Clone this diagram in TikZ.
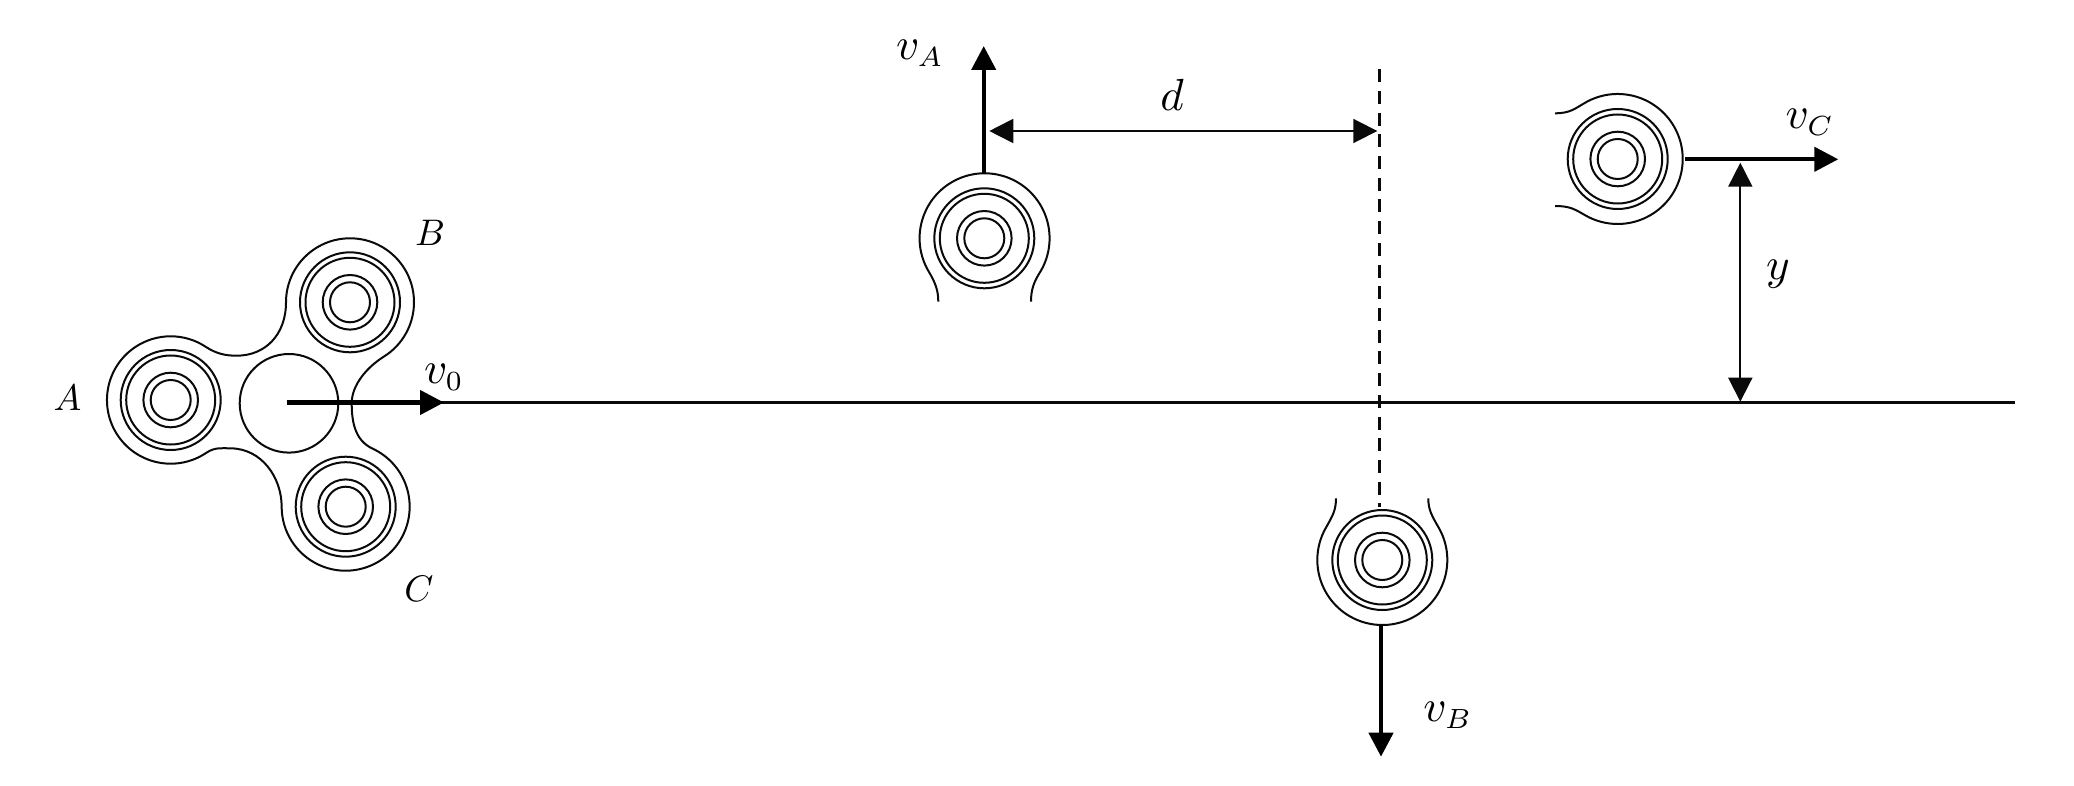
\documentclass[tikz,border=0pt]{standalone}
\usetikzlibrary{arrows.meta}
\definecolor{ink}{HTML}{0A0A0A}
\newcommand{\subs}[1]{\scalebox{.88}{$\scriptstyle #1$}}
\tikzset{
  x=1pt,y=-1pt,
  outl/.style={draw=ink,line width=2pt},
  ringl/.style={draw=ink,line width=2pt},
  baseln/.style={draw=ink,line width=2.5pt},
  thickarrow/.style={draw=black,line width=4.4pt,-{Triangle[length=24pt,width=24pt]}},
  dimarrow/.style={draw=ink,line width=1.8pt,{Triangle[length=24pt,width=24pt]}-{Triangle[length=24pt,width=24pt]}},
  dashln/.style={draw=ink,line width=3pt,dash pattern=on 13pt off 8.7pt},
  symlabel/.style={inner sep=0pt,scale=4.5,text=black},
  caplabel/.style={inner sep=0pt,scale=3.7,text=black}
}
\newcommand{\ringset}[1]{%
  \draw[ringl] (#1) circle[radius=50];
  \draw[ringl] (#1) circle[radius=44.5];
  \draw[ringl] (#1) circle[radius=27.3];
  \draw[ringl] (#1) circle[radius=20];
}
\begin{document}
\begin{tikzpicture}
\useasboundingbox (0,0) rectangle (2074,786);
\fill[white] (0,0) rectangle (2074,786);
% spinner
\coordinate (cA) at (170.7,400);
\coordinate (cB) at (350,302.3);
\coordinate (cC) at (345.7,506.7);
\coordinate (hub) at (289,403.3);
\draw[outl] (206.3,347.2) .. controls (217,354) and (226,355.7) .. (236.7,355.7)
  .. controls (265,355.7) and (286,335) .. (286,302.3)
  arc[start angle=180,end angle=418,radius=64]
  .. controls (366.9,367.2) and (351.7,385) .. (351.7,403.3)
  .. controls (351.7,425) and (356.4,441.1) .. (372.7,448.7)
  arc[start angle=295,end angle=540,radius=64]
  .. controls (281.7,478) and (262,448.3) .. (230,448.3)
  .. controls (222,448.3) and (215,447) .. (206.3,452.8)
  arc[start angle=56,end angle=304,radius=63.7] -- cycle;
\ringset{cA}\ringset{cB}\ringset{cC}
\draw[outl] (hub) circle[radius=49.3];
% detached lobes
\coordinate (dA) at (984.3,238.3);
\coordinate (dB) at (1382.3,560);
\coordinate (dC) at (1617.7,159);
\draw[outl] (938.3,301.7) .. controls (938.3,290) and (935,282) .. (928.3,270.8)
  arc[start angle=150,end angle=390,radius=65]
  .. controls (1033.6,282) and (1031,290) .. (1031,301.7);
\ringset{dA}
\draw[outl] (1428.3,498.3) .. controls (1428.3,510) and (1432,516) .. (1438.6,527.5)
  arc[start angle=-30,end angle=210,radius=65]
  .. controls (1332.6,516) and (1336,510) .. (1336,498.3);
\ringset{dB}
\draw[outl] (1555,113.3) .. controls (1570,113.3) and (1574.8,108.7) .. (1585.2,102.7)
  arc[start angle=240,end angle=480,radius=65]
  .. controls (1574.8,209.3) and (1570,206) .. (1555,206);
\ringset{dC}
% lines
\coordinate (b0) at (286.7,402.5);
\coordinate (b1) at (2015,402.5);
\draw[baseln] (b0) -- (b1);
\coordinate (v0tip) at (444,402.5);
\draw[thickarrow] (b0) -- (v0tip);
\coordinate (dash0) at (1379,69.3);
\coordinate (dash1) at (1379,506.7);
\draw[dashln] (dash0) -- (dash1);
\coordinate (vAs) at (983.7,174);
\coordinate (vAt) at (983.7,46);
\draw[thickarrow] (vAs) -- (vAt);
\coordinate (vBs) at (1381,625);
\coordinate (vBt) at (1381,756.7);
\draw[thickarrow] (vBs) -- (vBt);
\coordinate (vCs) at (1685,159.3);
\coordinate (vCt) at (1838.3,159.3);
\draw[thickarrow] (vCs) -- (vCt);
\coordinate (dL) at (989.3,131);
\coordinate (dR) at (1377.3,131);
\draw[dimarrow] (dL) -- (dR);
\coordinate (yT) at (1740.3,162.7);
\coordinate (yB) at (1740.3,401.7);
\draw[dimarrow] (yT) -- (yB);
% labels
\node[caplabel] (lA) at (67.5,398) {$A$};
\node[caplabel] (lB) at (430,233) {$B$};
\node[caplabel] (lC) at (419,588.6) {$C$};
\node[symlabel] (lv0) at (444,377) {$v_{\subs{0}}$};
\node[symlabel] (lvA) at (920,53) {$v_{\subs{A}}$};
\node[symlabel] (ld) at (1172,95) {$d$};
\node[symlabel] (lvB) at (1448,715) {$v_{\subs{B}}$};
\node[symlabel] (lvC) at (1810,122) {$v_{\subs{C}}$};
\node[symlabel] (ly) at (1778,274) {$y$};
\end{tikzpicture}
\end{document}
